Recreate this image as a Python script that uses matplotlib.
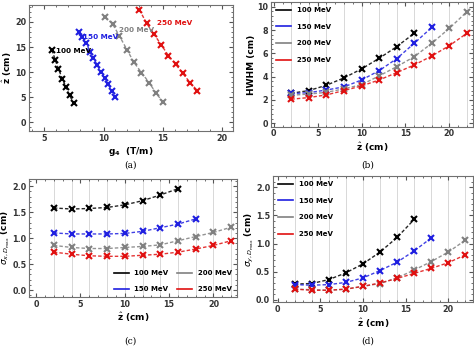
import numpy as np
import matplotlib.pyplot as plt
from matplotlib.ticker import AutoMinorLocator

plt.rcParams['font.family'] = ['DejaVu Sans']
plt.rcParams['mathtext.fontset'] = 'dejavusans'

energies = ["100 MeV", "150 MeV", "200 MeV", "250 MeV"]
colors = ["black", "#1f1fe0", "#808080", "#e01010"]

# (a) focusing gradient g4 vs depth
g4_100 = [5.64, 5.93, 6.18, 6.52, 6.83, 7.13, 7.47]
zg_100 = [14.4, 12.4, 10.7, 8.7, 7.0, 5.4, 3.8]
g4_150 = [7.91, 8.20, 8.54, 8.84, 9.15, 9.47, 9.77, 10.08, 10.36, 10.69, 10.98]
zg_150 = [18.0, 17.0, 15.9, 14.1, 12.9, 11.35, 10.0, 8.8, 7.6, 6.3, 5.0]
g4_200 = [10.16, 10.78, 11.34, 11.99, 12.55, 13.2, 13.85, 14.4, 14.99]
zg_200 = [21.0, 19.5, 17.2, 14.4, 12.0, 9.9, 7.9, 5.9, 4.1]
g4_250 = [13.03, 13.64, 14.27, 14.88, 15.47, 16.09, 16.68, 17.3, 17.92]
zg_250 = [22.4, 19.7, 17.5, 15.4, 13.3, 11.55, 9.76, 7.9, 6.3]

# depths for (b)-(d)
z_100 = [2, 4, 6, 8, 10, 12, 14, 16]
z_150 = [2, 4, 6, 8, 10, 12, 14, 16, 18]
z_200 = [2, 4, 6, 8, 10, 12, 14, 16, 18, 20, 22]
z_250 = [2, 4, 6, 8, 10, 12, 14, 16, 18, 20, 22]

hwhm_100 = [2.57, 2.8, 3.26, 3.89, 4.66, 5.57, 6.57, 7.72]
hwhm_150 = [2.55, 2.62, 2.85, 3.12, 3.71, 4.51, 5.54, 6.86, 8.23]
hwhm_200 = [2.4, 2.5, 2.65, 2.95, 3.31, 4.06, 4.85, 5.71, 6.86, 8.15, 9.57]
hwhm_250 = [2.06, 2.2, 2.43, 2.8, 3.2, 3.71, 4.34, 5.0, 5.77, 6.66, 7.72]

sx_100 = [1.58, 1.56, 1.57, 1.59, 1.64, 1.72, 1.83, 1.95]
sx_150 = [1.1, 1.08, 1.08, 1.08, 1.09, 1.13, 1.2, 1.27, 1.37]
sx_200 = [0.86, 0.82, 0.80, 0.80, 0.82, 0.84, 0.87, 0.95, 1.03, 1.11, 1.21]
sx_250 = [0.73, 0.69, 0.66, 0.65, 0.65, 0.67, 0.69, 0.73, 0.79, 0.86, 0.95]

sy_100 = [0.28, 0.29, 0.36, 0.48, 0.64, 0.85, 1.11, 1.43]
sy_150 = [0.27, 0.26, 0.27, 0.31, 0.39, 0.52, 0.67, 0.87, 1.10]
sy_200 = [0.19, 0.18, 0.17, 0.19, 0.24, 0.29, 0.39, 0.53, 0.68, 0.85, 1.06]
sy_250 = [0.19, 0.17, 0.17, 0.19, 0.24, 0.30, 0.38, 0.47, 0.56, 0.66, 0.80]

fig = plt.figure(figsize=(4.74, 3.48), dpi=100)

ax_a = fig.add_axes([0.061, 0.624, 0.430, 0.362])
ax_b = fig.add_axes([0.572, 0.636, 0.426, 0.358])
ax_c = fig.add_axes([0.062, 0.147, 0.437, 0.339])
ax_d = fig.add_axes([0.576, 0.132, 0.422, 0.362])

TICK_FS = 5.8
LAB_FS = 6.5


def style(ax):
    for s in ax.spines.values():
        s.set_color("#707070")
        s.set_linewidth(0.8)
    ax.tick_params(which="both", direction="in", top=True, right=True,
                   colors="#555555", labelsize=TICK_FS, labelcolor="#333333", pad=2)
    ax.tick_params(which="major", length=3)
    ax.tick_params(which="minor", length=1.5)
    ax.xaxis.set_minor_locator(AutoMinorLocator(5))
    ax.yaxis.set_minor_locator(AutoMinorLocator(5))
    for lab in ax.get_xticklabels() + ax.get_yticklabels():
        lab.set_fontweight("bold")


def series(ax, x, y, c, label=None):
    ax.plot(x, y, ls=(0, (2.5, 1.5)), lw=1.0, color=c, alpha=0.85)
    ax.plot(x, y, ls="none", marker="x", ms=4.2, mew=1.5, color=c, label=label)


# (a)
data_a = [(g4_100, zg_100), (g4_150, zg_150), (g4_200, zg_200), (g4_250, zg_250)]
for (x, y), c in zip(data_a, colors):
    series(ax_a, x, y, c)
ax_a.text(5.95, 14.2, "100 MeV", color=colors[0], fontsize=5.2, fontweight="bold", va="center")
ax_a.text(8.25, 17.0, "150 MeV", color=colors[1], fontsize=5.2, fontweight="bold", va="center")
ax_a.text(11.3, 18.4, "200 MeV", color=colors[2], fontsize=5.2, fontweight="bold", va="center")
ax_a.text(14.5, 19.8, "250 MeV", color=colors[3], fontsize=5.2, fontweight="bold", va="center")
ax_a.set_xlim(3.7, 20.9)
ax_a.set_ylim(-1.7, 23.4)
ax_a.set_xticks([5, 10, 15, 20])
ax_a.set_yticks([0, 5, 10, 15, 20])
ax_a.set_xlabel(r"$\mathbf{g_4}$  (T/m)", fontsize=LAB_FS, fontweight="bold", labelpad=1.5)
ax_a.set_ylabel(r"$\hat{\mathbf{z}}$ (cm)", fontsize=LAB_FS, fontweight="bold", labelpad=1)
style(ax_a)

zs = [z_100, z_150, z_200, z_250]


def depth_panel(ax, vals, ylim, yticks, ylabel, ypad=1):
    for xv in range(2, 23, 2):
        ax.axvline(xv, color="#d8d8d8", lw=0.7, zorder=0)
    for z, v, c, lab in zip(zs, vals, colors, energies):
        series(ax, z, v, c, lab)
    ax.set_xlim(-0.3, 22.7)
    ax.set_ylim(*ylim)
    ax.set_xticks([0, 5, 10, 15, 20])
    ax.set_yticks(yticks)
    ax.set_xlabel(r"$\hat{\mathbf{z}}$ (cm)", fontsize=LAB_FS, fontweight="bold", labelpad=1.5)
    ax.set_ylabel(ylabel, fontsize=LAB_FS, fontweight="bold", labelpad=ypad)
    style(ax)


def line_legend(ax, order=range(4), **kw):
    handles = [plt.Line2D([], [], color=c, lw=1.2) for c in colors]
    return ax.legend([handles[i] for i in order], [energies[i] for i in order],
                     frameon=False, prop={"size": 5, "weight": "bold"},
                     handlelength=2.2, handletextpad=0.8, **kw)


# (b)
depth_panel(ax_b, [hwhm_100, hwhm_150, hwhm_200, hwhm_250], (-0.3, 10.4),
            [0, 2, 4, 6, 8, 10], "HWHM (cm)")
line_legend(ax_b, loc="upper left", labelspacing=1.55, borderaxespad=0.3)

# (c)
depth_panel(ax_c, [sx_100, sx_150, sx_200, sx_250], (-0.13, 2.14),
            [0.0, 0.5, 1.0, 1.5, 2.0], r"$\sigma_{x,D_{\max}}$ (cm)", ypad=0)
ax_c.set_xlim(-0.76, 22.6)
line_legend(ax_c, loc="lower right", ncol=2, labelspacing=1.4,
            columnspacing=1.2, borderaxespad=0.3)

# (d)
depth_panel(ax_d, [sy_100, sy_150, sy_200, sy_250], (-0.04, 2.2),
            [0.0, 0.5, 1.0, 1.5, 2.0], r"$\sigma_{y,D_{\max}}$ (cm)", ypad=0)
ax_d.set_xlim(-0.55, 22.9)
line_legend(ax_d, loc="upper left", labelspacing=1.55, borderaxespad=0.3)

for x, y, t in [(0.275, 0.512, "(a)"), (0.775, 0.512, "(b)"),
                (0.275, 0.008, "(c)"), (0.775, 0.008, "(d)")]:
    fig.text(x, y, t, ha="center", va="bottom", fontsize=6.5, family="DejaVu Serif")

fig.savefig("out.png", dpi=100)
